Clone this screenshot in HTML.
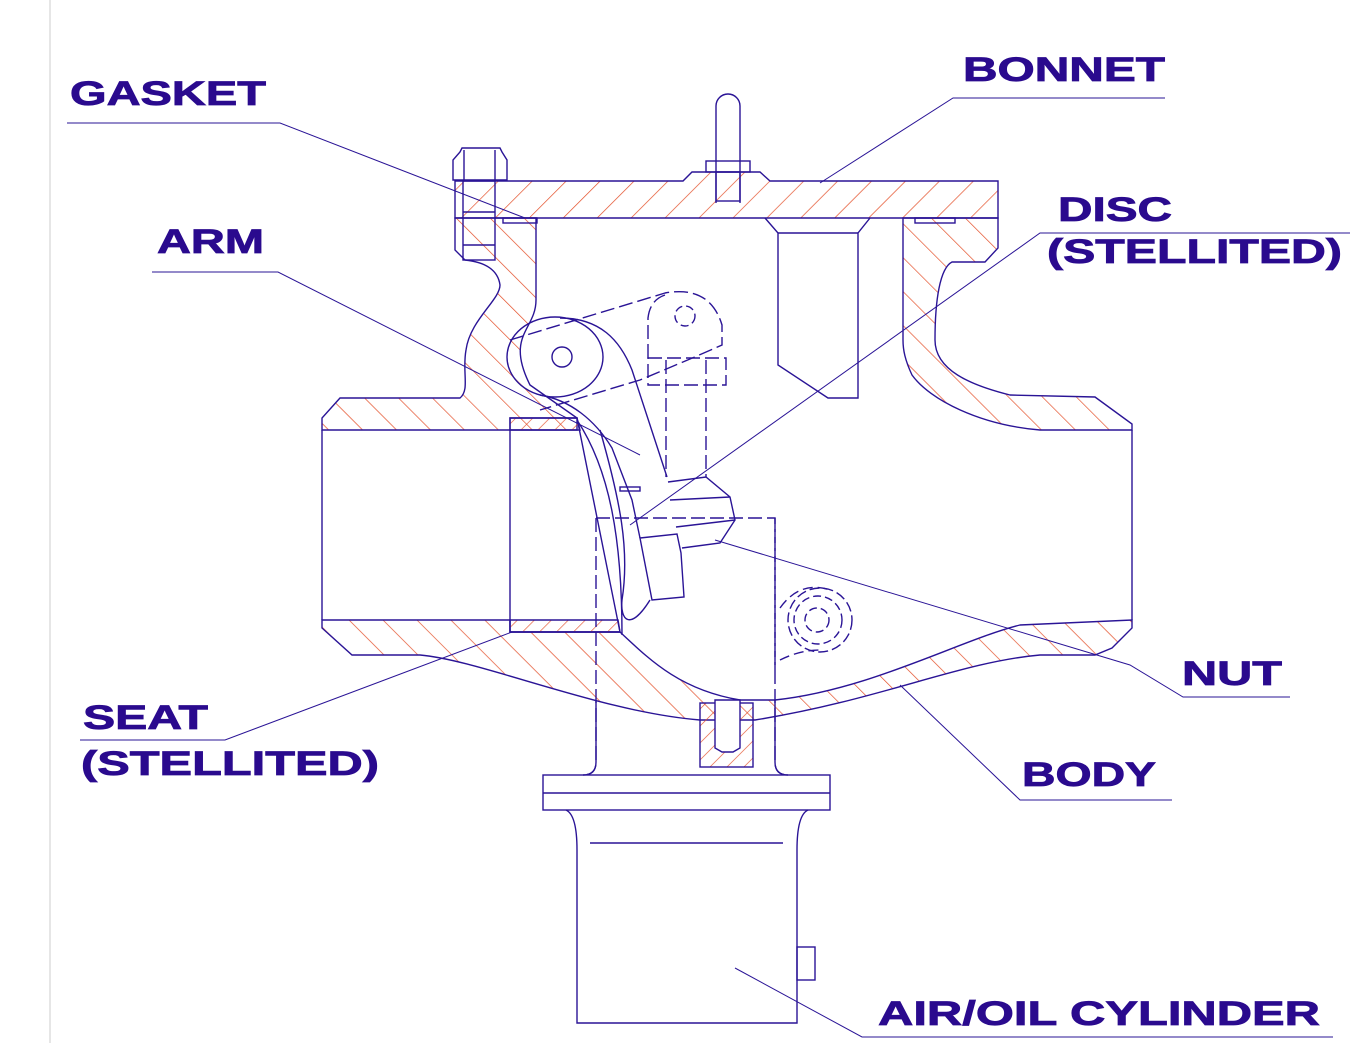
<!DOCTYPE html>
<html><head><meta charset="utf-8"><style>
html,body{margin:0;padding:0;background:#fff;}
svg{display:block}
text{font-family:"Liberation Sans",sans-serif;font-weight:bold;fill:#2a0a8e;font-size:34px;stroke:#2a0a8e;stroke-width:0.8}
</style></head><body>
<svg width="1359" height="1043" viewBox="0 0 1359 1043" xmlns="http://www.w3.org/2000/svg">
<defs>
<pattern id="hb" patternUnits="userSpaceOnUse" width="24" height="24" patternTransform="rotate(-45)">
<line x1="0" y1="0" x2="0" y2="24" stroke="#e4502a" stroke-width="1.4"/></pattern>
<pattern id="hf" patternUnits="userSpaceOnUse" width="24" height="24" patternTransform="rotate(45)">
<line x1="0" y1="0" x2="0" y2="24" stroke="#e4502a" stroke-width="1.4"/></pattern>
<pattern id="hs" patternUnits="userSpaceOnUse" width="12" height="12" patternTransform="rotate(45)">
<line x1="0" y1="0" x2="0" y2="12" stroke="#e4502a" stroke-width="1.3"/></pattern>
</defs>
<line x1="50" y1="0" x2="50" y2="1043" stroke="#ccc" stroke-width="1"/>
<g stroke="#2a1496" stroke-width="1.4" fill="none">
<path d="M455,181 L683,181 L692,172 L760,172 L770,181 L998,181 L998,218 L455,218 Z" fill="url(#hf)"/>
<path d="M455,218 L536,218 L536,300 C536,330 505,335 530,385 L577,418 L577,430 L322,430 L322,418 L340,398 L460,398 C470,390 462,372 466,350 C470,320 500,300 500,285 C498,270 485,262 465,260 L455,250 Z" fill="url(#hb)"/>
<path d="M903,218 L998,218 L998,248 L985,262 L952,262 C940,268 935,300 935,340 C935,370 970,385 1010,395 L1095,397 L1132,424 L1132,430 L1040,430 C980,425 930,400 912,375 C905,360 903,350 903,340 Z" fill="url(#hb)"/>
<path d="M322,620 L510,620 L510,632 L620,632 C650,660 680,690 740,700 L775,700 C870,690 960,640 1020,625 L1132,620 L1132,628 L1112,648 L1095,655 L1040,655 C960,662 880,700 755,720 L700,720 C600,712 480,660 420,655 L352,655 L322,628 Z" fill="url(#hb)"/>
<line x1="322" y1="430" x2="322" y2="620"/><line x1="1132" y1="430" x2="1132" y2="620"/>
<path d="M510,418 L577,418 L580,430 L510,430 Z" fill="url(#hs)"/>
<path d="M510,620 L618,620 L620,632 L510,632 Z" fill="url(#hs)"/>
<path d="M510,418 L577,418 L620,632 L510,632 Z"/>
<rect x="503" y="218" width="34" height="5"/><rect x="915" y="218" width="40" height="5"/>
<path d="M453,180 L453,160 L460,152 L462,148 L500,148 L502,152 L507,160 L507,180 Z" fill="#fff"/>
<line x1="464" y1="150" x2="464" y2="180"/><line x1="495" y1="150" x2="495" y2="180"/>
<rect x="463" y="181" width="32" height="79"/>
<line x1="463" y1="212" x2="495" y2="212"/><line x1="463" y1="245" x2="495" y2="245"/>
<path d="M716,203 L716,106 A12,12 0 0 1 740,106 L740,203"/>
<rect x="706" y="161" width="44" height="11"/>
<rect x="716" y="172" width="24" height="29"/>
<path d="M765,218 L778,233 L778,365 L828,398 L858,398 L858,233 L870,218"/>
<line x1="778" y1="233" x2="858" y2="233"/>
<rect x="700" y="703" width="53" height="64" fill="url(#hs)"/>
<path d="M715,700 L715,748 L722,752 L733,752 L740,748 L740,700 Z" fill="#fff"/>
<path d="M596,518 L596,762 Q596,775 583,775 M775,518 L775,762 Q775,775 788,775" stroke-dasharray="14,5"/>
<path d="M596,700 L596,762 Q596,775 583,775 M775,700 L775,762 Q775,775 788,775"/>
<rect x="543" y="775" width="287" height="35"/><line x1="543" y1="793" x2="830" y2="793"/>
<path d="M566,810 Q577,815 577,850 L577,1023 L797,1023 L797,850 Q797,815 808,810"/>
<line x1="590" y1="843" x2="783" y2="843"/>
<rect x="797" y="947" width="18" height="33"/>
<path d="M596,518 L775,518 L775,670" stroke-dasharray="14,5"/>
<path d="M780,608 Q800,580 830,590 M780,660 Q800,650 820,650" stroke-dasharray="10,5"/>
<circle cx="820" cy="620" r="32" stroke-dasharray="10,4"/>
<circle cx="818" cy="620" r="24" stroke-dasharray="8,4"/>
<circle cx="817" cy="620" r="12" stroke-dasharray="8,4"/>
<ellipse cx="555" cy="357" rx="48" ry="40"/>
<circle cx="562" cy="357" r="10"/>
<path d="M560,318 C600,318 620,340 632,370 L667,477"/>
<path d="M540,395 C570,400 595,420 612,448 L632,500 L640,538"/>
<path d="M577,420 C610,470 622,540 622,635"/>
<path d="M600,430 C620,500 630,550 622,600 C620,620 630,632 650,600"/>
<path d="M668,482 L706,477 L730,497 L735,520 L720,543 L682,548"/>
<path d="M670,500 L730,497 M676,527 L735,520"/>
<path d="M640,538 L677,534 L681,553 L684,597 L652,600 Z"/>
<rect x="620" y="487" width="20" height="4"/>
<path d="M510,340 L665,293 Q710,285 722,325 L722,345 Q700,355 640,380 L540,410" stroke-dasharray="14,5"/>
<path d="M648,358 L648,318 Q650,300 665,295" stroke-dasharray="14,5"/>
<circle cx="685" cy="316" r="10" stroke-dasharray="8,4"/>
<rect x="648" y="358" width="78" height="27" stroke-dasharray="14,5"/>
<path d="M666,360 L666,477 M706,360 L706,477" stroke-dasharray="14,5"/>
<g stroke-width="1">
<path d="M67,123 L280,123 L525,218"/>
<path d="M1165,98 L953,98 L820,183"/>
<path d="M1350,233 L1040,233 L630,525"/>
<path d="M152,272 L278,272 L640,455"/>
<path d="M80,740 L225,740 L512,632"/>
<path d="M1290,697 L1183,697 L1130,665 L715,540"/>
<path d="M1172,800 L1020,800 L900,685"/>
<path d="M1333,1037 L862,1037 L735,968"/>
</g>
</g>
<text x="70" y="105" textLength="196" lengthAdjust="spacingAndGlyphs">GASKET</text>
<text x="963" y="81" textLength="202" lengthAdjust="spacingAndGlyphs">BONNET</text>
<text x="1058" y="221" textLength="114" lengthAdjust="spacingAndGlyphs">DISC</text>
<text x="1047" y="263" textLength="295" lengthAdjust="spacingAndGlyphs">(STELLITED)</text>
<text x="157" y="253" textLength="107" lengthAdjust="spacingAndGlyphs">ARM</text>
<text x="83" y="729" textLength="125" lengthAdjust="spacingAndGlyphs">SEAT</text>
<text x="81" y="775" textLength="298" lengthAdjust="spacingAndGlyphs">(STELLITED)</text>
<text x="1182" y="685" textLength="100" lengthAdjust="spacingAndGlyphs">NUT</text>
<text x="1022" y="786" textLength="134" lengthAdjust="spacingAndGlyphs">BODY</text>
<text x="878" y="1025" textLength="442" lengthAdjust="spacingAndGlyphs">AIR/OIL CYLINDER</text>
</svg>
</body></html>
